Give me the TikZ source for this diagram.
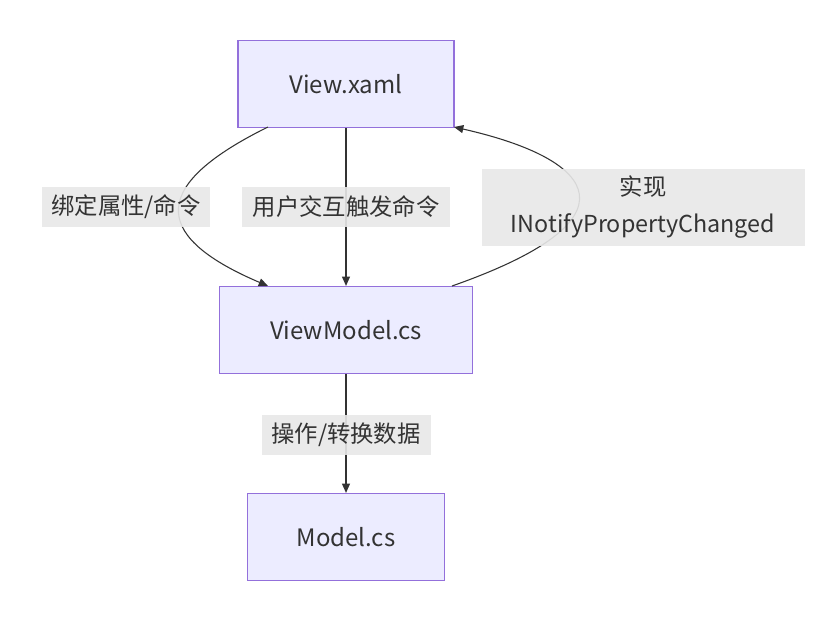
\documentclass[tikz,border=0pt]{standalone}
\usepackage{fontspec}
\setmainfont{Noto Sans CJK SC}
\usetikzlibrary{arrows.meta}
\definecolor{boxfill}{HTML}{ECECFF}
\definecolor{boxline}{HTML}{9370DB}
\definecolor{txt}{HTML}{333333}
\definecolor{lbl}{HTML}{E8E8E8}
\begin{document}
\begin{tikzpicture}[x=0.75pt,y=-0.75pt,
  box/.style={draw=boxline,fill=boxfill,line width=0.9pt,text=txt,font=\fontsize{18}{22}\selectfont,inner sep=0pt},
  lab/.style={fill=lbl,fill opacity=0.9,text opacity=1,text=txt,font=\fontsize{17.5}{28}\selectfont,inner sep=0pt,align=center},
  arr/.style={draw=txt,line width=0.8pt,-{Triangle[length=7pt,width=6pt]}}]
\useasboundingbox[fill=white] (0,0) rectangle (831,625);
\node[box,minimum width=216*0.75pt,minimum height=87*0.75pt] (view) at (346,84) {View.xaml};
\node[box,minimum width=253*0.75pt,minimum height=87*0.75pt] (vm) at (346,330) {ViewModel.cs};
\node[box,minimum width=197*0.75pt,minimum height=87*0.75pt] (model) at (346,537) {Model.cs};
\coordinate (a1) at (268,127); \coordinate (a2) at (268,286);
\coordinate (c1) at (452,286); \coordinate (c2) at (454,127);
\draw[arr] (a1) .. controls (140,190) and (160,240) .. (a2);
\draw[arr] (view.south) -- (vm.north);
\draw[arr] (c1) .. controls (640,220) and (600,160) .. (c2);
\draw[arr] (vm.south) -- (model.north);
\node[lab,minimum width=168*0.75pt,minimum height=40*0.75pt] (l1) at (126,207) {绑定属性/命令};
\node[lab,minimum width=208*0.75pt,minimum height=40*0.75pt] (l2) at (346,207) {用户交互触发命令};
\node[lab,minimum width=323*0.75pt,minimum height=77*0.75pt] (l3) at (643,207) {实现\\INotifyPropertyChanged};
\node[lab,minimum width=169*0.75pt,minimum height=40*0.75pt] (l4) at (346,435) {操作/转换数据};
\end{tikzpicture}
\end{document}
